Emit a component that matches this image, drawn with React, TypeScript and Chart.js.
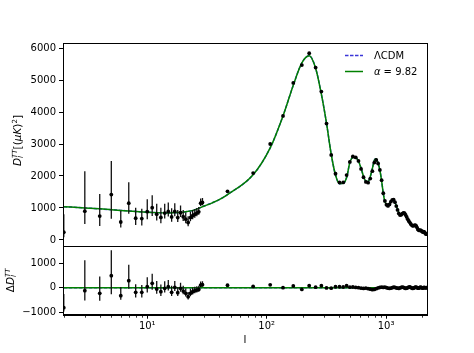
import React, { useEffect, useRef } from "react";
import { Chart, registerables } from "chart.js";

Chart.register(...registerables);

// ---------- data ----------
const LOW_L = [2, 3, 4, 5, 6, 7, 8, 9, 10, 11, 12, 13, 14, 15, 16, 17, 18, 19, 20, 21, 22, 23, 24, 25, 26, 27, 28, 29];
const LOW_D = [240, 900, 745, 1420, 560, 1150, 680, 668, 885, 1010, 805, 705, 840, 890, 720, 890, 700, 850, 725, 650, 545, 700, 760, 800, 840, 880, 1150, 1170];
const LOW_ERR_DN = [160, 400, 310, 760, 170, 335, 210, 215, 240, 260, 200, 180, 170, 160, 150, 150, 140, 135, 130, 125, 120, 115, 110, 105, 100, 95, 90, 85];
const LOW_ERR_UP = [560, 1250, 690, 1050, 355, 655, 330, 305, 385, 390, 330, 300, 290, 280, 270, 260, 240, 230, 215, 205, 195, 185, 175, 165, 160, 150, 145, 140];
const LOW_RES = [-823, -123, -230, 494, -329, 288, -189, -189, 41, 181, -53, -165, -27, 41, -189, 14, -206, -27, -137, -233, -370, -233, -165, -123, -96, -69, 110, 124];

const BIN_L = [47, 77, 107, 137, 167, 197, 227, 257, 287, 317, 347, 377, 407, 437, 467, 497, 527, 557, 587, 617, 647, 677, 707, 737, 767, 797, 827, 857, 887, 917, 947, 977, 1007, 1037, 1067, 1097, 1127, 1157, 1187, 1217, 1247, 1277, 1307, 1337, 1367, 1397, 1427, 1457, 1487, 1517, 1547, 1577, 1607, 1637, 1667, 1697, 1727, 1757, 1787, 1817, 1847, 1877, 1907, 1937, 1967, 1997, 2027, 2057, 2087, 2117, 2147, 2177];
const BIN_D = [1520, 2090, 3000, 3880, 4910, 5470, 5840, 5390, 4640, 3640, 2660, 2070, 1800, 1800, 2030, 2440, 2610, 2580, 2470, 2220, 1960, 1815, 1790, 1920, 2150, 2420, 2500, 2390, 2190, 1870, 1460, 1220, 1100, 1065, 1110, 1195, 1255, 1260, 1180, 1060, 940, 830, 780, 785, 820, 845, 835, 780, 720, 650, 595, 550, 500, 465, 440, 445, 455, 460, 435, 385, 330, 300, 300, 308, 290, 265, 248, 255, 248, 218, 188, 180];
const BIN_RES = [100, 50, 120, 0, 70, -70, 80, 20, 80, -10, -20, 40, 40, 30, 80, 20, 30, 10, 0, -20, -30, -20, -40, -60, -80, -70, -40, -10, 10, 20, 10, 20, 0, -20, -30, -20, 0, 20, 10, -10, -20, -30, -10, 10, 20, 10, -10, -30, -20, 0, 20, 30, 10, -10, -30, -20, 0, 20, 20, 0, -20, -20, 0, 20, 10, -10, -20, 0, 10, 0, -10, 0];

const MODEL_LOW_L = [2, 3, 4, 5, 6, 7, 8, 10, 12, 15, 18, 21, 25, 30, 35, 40];
const MODEL_LOW_D = [1040, 1002, 972, 946, 924, 905, 890, 868, 854, 846, 855, 880, 940, 1060, 1160, 1260];
const MODEL_BIN_D = [1420, 2040, 2880, 3880, 4840, 5540, 5760, 5370, 4560, 3650, 2680, 2030, 1760, 1770, 1950, 2420, 2580, 2570, 2470, 2240, 1990, 1835, 1830, 1980, 2230, 2490, 2540, 2400, 2180, 1850, 1450, 1200, 1100, 1085, 1140, 1215, 1255, 1240, 1170, 1070, 960, 860, 790, 775, 800, 835, 845, 810, 740, 650, 575, 520, 490, 475, 470, 465, 455, 440, 415, 385, 350, 320, 300, 288, 280, 275, 268, 255, 238, 218, 198, 180];
const MODEL_END_L = [2200];
const MODEL_END_D = [172];

const X_MAJOR = [10, 100, 1000];
const X_MAJOR_LABELS = ["10\u00B9", "10\u00B2", "10\u00B3"];
const X_MINOR = [2, 3, 4, 5, 6, 7, 8, 9, 20, 30, 40, 50, 60, 70, 80, 90, 200, 300, 400, 500, 600, 700, 800, 900, 2000];
const Y_TOP_TICKS = [0, 1000, 2000, 3000, 4000, 5000, 6000];
const Y_BOT_TICKS = [-1000, 0, 1000];
const LEGEND_LABELS = ["\u039BCDM", "= 9.82"];

const FONT = "'DejaVu Sans', sans-serif";
const GREEN = "#008000";
const BLUE = "#3a35d8";

type Part = { t: string; it?: boolean; sz: number; dy?: number; hold?: boolean };

function drawMath(ctx: CanvasRenderingContext2D, parts: Part[], x: number, y: number) {
  const measure = (p: Part) => {
    ctx.font = `${p.it ? "italic " : ""}${p.sz}px ${FONT}`;
    return ctx.measureText(p.t).width;
  };
  let total = 0;
  let held = 0;
  for (const p of parts) {
    const w = measure(p);
    if (p.hold) { held = w; continue; }
    total += Math.max(w, held);
    held = 0;
  }
  ctx.save();
  ctx.translate(x, y);
  ctx.rotate(-Math.PI / 2);
  ctx.textBaseline = "alphabetic";
  ctx.textAlign = "left";
  ctx.fillStyle = "#000";
  let cx = -total / 2;
  held = 0;
  for (const p of parts) {
    const w = measure(p);
    ctx.fillText(p.t, cx, p.dy || 0);
    if (p.hold) { held = w; continue; }
    cx += Math.max(w, held);
    held = 0;
  }
  ctx.restore();
}

const fmtTick = (v: number) => (v < 0 ? "\u2212" + String(-v) : String(v));

const overlay = {
  id: "overlay",
  afterDraw(chart: any) {
    const { ctx, chartArea, scales } = chart;
    const xs = scales.x, yt = scales.yTop, yb = scales.yBot;
    const L = Math.round(chartArea.left) + 0.5;
    const W = Math.round(chartArea.right - chartArea.left);
    ctx.save();
    ctx.strokeStyle = "#000";
    ctx.lineWidth = 1;
    for (const s of [yt, yb]) {
      ctx.strokeRect(L, Math.round(s.top) + 0.5, W, Math.round(s.bottom - s.top));
    }
    // minor ticks
    ctx.beginPath();
    for (const v of X_MINOR) {
      const px = Math.round(xs.getPixelForValue(v)) + 0.5;
      const b = Math.round(yb.bottom) + 0.5;
      ctx.moveTo(px, b);
      ctx.lineTo(px, b + 2.2);
    }
    ctx.lineWidth = 0.8;
    ctx.stroke();

    // legend
    const lx0 = chartArea.right - 82, lx1 = chartArea.right - 64, tx = chartArea.right - 53;
    const r1 = yt.top + 12.5, r2 = yt.top + 28.5;
    ctx.lineWidth = 1.5;
    ctx.strokeStyle = BLUE;
    ctx.setLineDash([3.5, 1.5]);
    ctx.beginPath(); ctx.moveTo(lx0, r1); ctx.lineTo(lx1, r1); ctx.stroke();
    ctx.setLineDash([]);
    ctx.strokeStyle = GREEN;
    ctx.beginPath(); ctx.moveTo(lx0, r2); ctx.lineTo(lx1, r2); ctx.stroke();
    ctx.fillStyle = "#000";
    ctx.textBaseline = "middle";
    ctx.textAlign = "left";
    ctx.font = `10px ${FONT}`;
    ctx.fillText(LEGEND_LABELS[0], tx, r1 + 0.5);
    ctx.font = `italic 10px ${FONT}`;
    ctx.fillText("\u03B1", tx, r2 + 0.5);
    const aw = ctx.measureText("\u03B1").width;
    ctx.font = `10px ${FONT}`;
    ctx.fillText(LEGEND_LABELS[1], tx + aw + 3, r2 + 0.5);

    // y titles
    drawMath(ctx, [
      { t: "D", it: true, sz: 10.5 },
      { t: "TT", it: true, sz: 7, dy: -4.5, hold: true },
      { t: "l", it: true, sz: 7, dy: 2.2 },
      { t: "[(", sz: 10.5 },
      { t: "\u03BCK", it: true, sz: 10.5 },
      { t: ")", sz: 10.5 },
      { t: "2", sz: 7, dy: -4.5 },
      { t: "]", sz: 10.5 },
    ], 21, (yt.top + yt.bottom) / 2 - 4);
    drawMath(ctx, [
      { t: "\u0394", sz: 10.5 },
      { t: "D", it: true, sz: 10.5 },
      { t: "TT", it: true, sz: 7, dy: -4.5, hold: true },
      { t: "l", it: true, sz: 7, dy: 2.2 },
    ], 14, (yb.top + yb.bottom) / 2);
    ctx.restore();
  },
};

export default function App() {
  const ref = useRef<HTMLCanvasElement>(null);
  useEffect(() => {
    document.body.style.margin = "0";
    const canvas = ref.current!;
    const pts = (xs: number[], ys: number[]) => xs.map((x, i) => ({ x, y: ys[i] }));
    const errs = (xs: number[], ys: number[], dn: number[], up: number[]) => {
      const out: any[] = [];
      xs.forEach((x, i) => {
        out.push({ x, y: ys[i] - dn[i] }, { x, y: ys[i] + up[i] }, { x, y: null });
      });
      return out;
    };
    const MODEL_L = [...MODEL_LOW_L, ...BIN_L, ...MODEL_END_L];
    const MODEL_D = [...MODEL_LOW_D, ...MODEL_BIN_D, ...MODEL_END_D];
    const ZERO = MODEL_L.map(() => 0);

    const yCommon = (ticks: number[], weight: number, min: number, max: number) => ({
      type: "linear",
      position: "left",
      stack: "panels",
      stackWeight: weight,
      min,
      max,
      afterBuildTicks: (s: any) => { s.ticks = ticks.map((v) => ({ value: v })); },
      afterFit: (s: any) => { s.width = 63; },
      ticks: { color: "#000", font: { family: FONT, size: 10 }, padding: 3, callback: (v: any) => fmtTick(Number(v)) },
      grid: { drawOnChartArea: false, drawTicks: true, tickLength: 4, tickColor: "#000", tickWidth: 1 },
      border: { display: true, color: "#000", width: 1 },
    });

    const lineDs = (data: any[], axis: string, color: string, width: number, order: number, dash: number[] = []) => ({
      data,
      yAxisID: axis,
      borderColor: color,
      borderWidth: width,
      borderDash: dash,
      pointRadius: 0,
      fill: false,
      spanGaps: false,
      order,
    });
    const dotDs = (data: any[], axis: string) => ({
      data,
      yAxisID: axis,
      showLine: false,
      pointRadius: 1.9,
      pointBackgroundColor: "#000",
      pointBorderWidth: 0,
      order: 0,
    });

    const chart = new Chart(canvas, {
      type: "line",
      data: {
        datasets: [
          dotDs(pts([...LOW_L, ...BIN_L], [...LOW_D, ...BIN_D]), "yTop"),
          lineDs(errs(LOW_L, LOW_D, LOW_ERR_DN, LOW_ERR_UP), "yTop", "#111", 1.3, 1),
          { ...lineDs(pts(MODEL_L, MODEL_D), "yTop", GREEN, 1.5, 2), cubicInterpolationMode: "monotone" },
          { ...lineDs(pts(MODEL_L, MODEL_D), "yTop", BLUE, 1.5, 3, [3.5, 1.5]), cubicInterpolationMode: "monotone" },
          dotDs(pts([...LOW_L, ...BIN_L], [...LOW_RES, ...BIN_RES]), "yBot"),
          lineDs(errs(LOW_L, LOW_RES, LOW_ERR_DN, LOW_ERR_UP), "yBot", "#111", 1.3, 1),
          lineDs(pts(MODEL_L, ZERO), "yBot", GREEN, 1.5, 2),
          lineDs(pts(MODEL_L, ZERO), "yBot", BLUE, 1.5, 3, [3.5, 1.5]),
        ] as any,
      },
      options: {
        responsive: false,
        animation: false,
        events: [],
        layout: { padding: { top: 43, right: 47, left: 0, bottom: 0 } },
        plugins: { legend: { display: false }, tooltip: { enabled: false } },
        scales: {
          x: {
            type: "logarithmic",
            position: "bottom",
            min: 1.97,
            max: 2200,
            afterBuildTicks: (s: any) => { s.ticks = X_MAJOR.map((v) => ({ value: v })); },
            afterFit: (s: any) => { s.height = 38.3; },
            ticks: {
              color: "#000",
              font: { family: FONT, size: 10 },
              padding: 2,
              maxRotation: 0,
              autoSkip: false,
              callback: (_v: any, i: number) => X_MAJOR_LABELS[i],
            },
            grid: { drawOnChartArea: false, drawTicks: true, tickLength: 4, tickColor: "#000", tickWidth: 1 },
            border: { display: true, color: "#000", width: 1 },
            title: { display: true, text: "l", color: "#000", font: { family: FONT, size: 10.5 }, padding: { top: 0, bottom: 6 } },
          },
          yBot: yCommon(Y_BOT_TICKS, 68.7, -1110, 1715),
          yTop: yCommon(Y_TOP_TICKS, 203, -190, 6160),
        } as any,
      },
      plugins: [overlay],
    });
    return () => chart.destroy();
  }, []);
  return (
    <div style={{ width: 474, height: 353 }}>
      <canvas ref={ref} width={474} height={353} style={{ display: "block" }} />
    </div>
  );
}
